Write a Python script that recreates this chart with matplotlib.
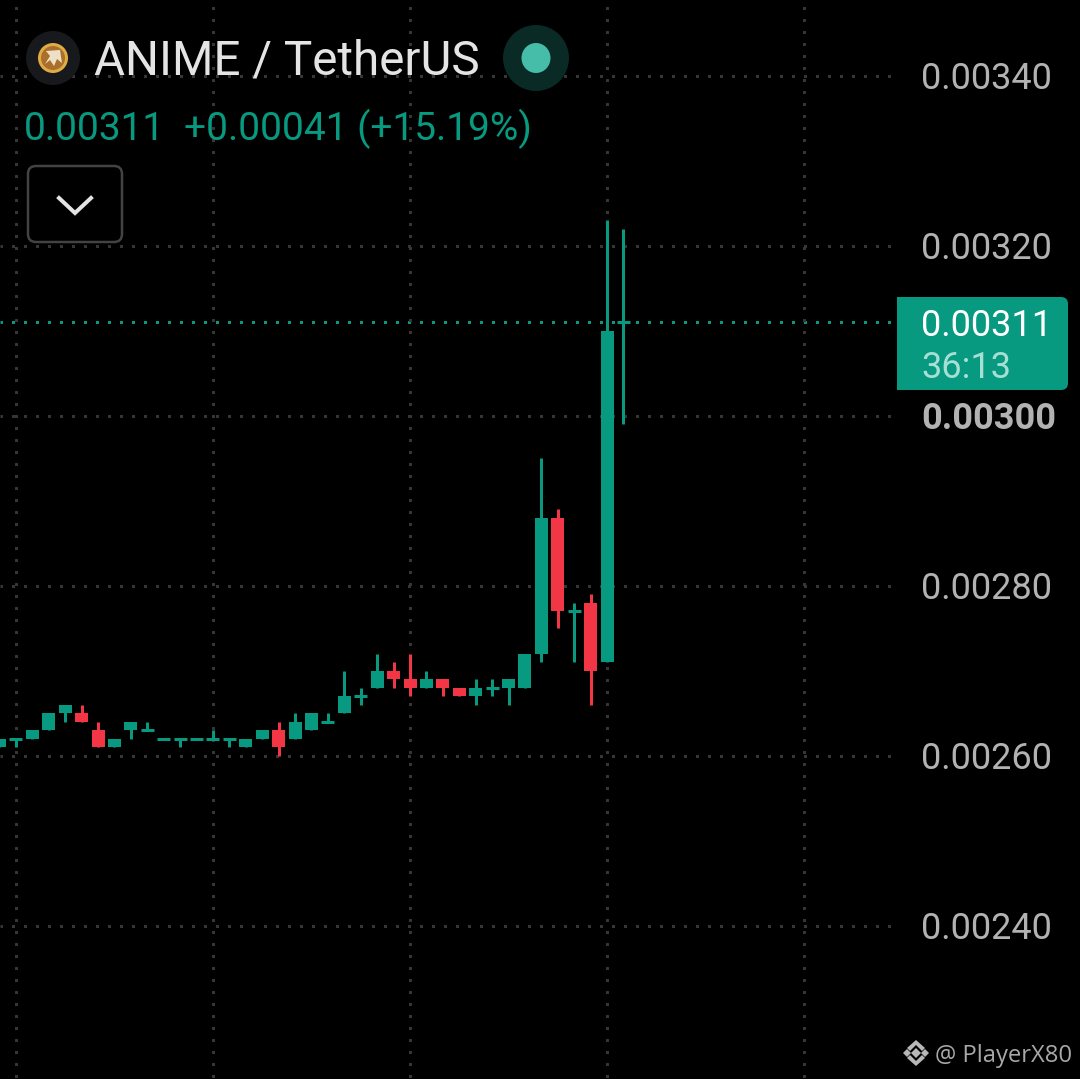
import matplotlib

matplotlib.use("Agg")
import matplotlib.pyplot as plt
import matplotlib.transforms as mtransforms
import numpy as np
from matplotlib.patches import Circle, Ellipse, FancyBboxPatch, Polygon, Rectangle

plt.rcParams["font.family"] = ["Roboto", "DejaVu Sans"]

opens = [261, 262, 262, 263, 265, 265, 263, 261, 263, 263, 262, 262, 262, 262, 262, 261, 262, 263, 262, 263,
         264, 265, 267, 268, 270, 269, 268, 269, 268, 267, 268, 268, 268, 272, 288, 277, 278, 271, 311]
closes = [262, 262, 263, 265, 266, 264, 261, 262, 264, 263, 262, 262, 262, 262, 262, 262, 263, 261, 264, 265,
          264, 267, 267, 270, 269, 268, 269, 268, 267, 268, 268, 269, 272, 288, 277, 277, 270, 310, 311]
highs = [262, 262, 263, 265, 266, 266, 264, 262, 264, 264, 262, 262, 262, 263, 262, 262, 263, 264, 265, 265,
         265, 270, 268, 272, 271, 272, 270, 269, 268, 269, 269, 269, 272, 295, 289, 278, 279, 323, 322]
lows = [261, 261, 262, 263, 264, 264, 261, 261, 262, 263, 262, 261, 262, 262, 261, 261, 262, 260, 262, 263,
        264, 265, 266, 268, 268, 267, 268, 267, 267, 266, 267, 266, 268, 271, 275, 271, 266, 271, 299]

grid_prices = [0.00240, 0.00260, 0.00280, 0.00300, 0.00320, 0.00340]
grid_candles = [1, 13, 25, 37, 49]
last_price = 0.00311
tag_price = "0.00311"
tag_timer = "36:13"
title = "ANIME / TetherUS"
last_text = "0.00311"
change_text = "+0.00041 (+15.19%)"
credit = "@ PlayerX80"

GREEN = "#089981"
RED = "#f23645"
GRID = "#363636"
LABEL = "#b2b2b2"

W, H = 1080, 1079
PX = 72 / 100  # points per pixel at dpi 100
Y_TOP, Y_BOTTOM = 0.0034894, 0.00222


def px_x(px):
    return (px + 0.5) / 16.42


fig = plt.figure(figsize=(W / 100, H / 100), dpi=100, facecolor="black")
ax = fig.add_axes([0, 0, 1, 1], facecolor="black")
ax.set_xlim(px_x(0), px_x(W))
ax.set_ylim(Y_BOTTOM, Y_TOP)
for spine in ax.spines.values():
    spine.set_visible(False)

# dotted grid, stops before the price labels
ax.hlines(grid_prices, px_x(0), px_x(893), color=GRID, linewidth=3 * PX, linestyle=(0.17, (1, 3)), zorder=1)
ax.hlines(last_price, px_x(0), px_x(893), color=GREEN, linewidth=3 * PX, linestyle=(0.17, (1, 3)), zorder=1)
ax.vlines(grid_candles, Y_TOP, Y_BOTTOM, color=GRID, linewidth=3 * PX, linestyle=(1.83, (1, 3)), zorder=1)

o = np.array(opens) / 1e5
c = np.array(closes) / 1e5
h = np.array(highs) / 1e5
l = np.array(lows) / 1e5
x = np.arange(len(o))
colors = [RED if b < a else GREEN for a, b in zip(o, c)]

ax.vlines(x, l, h, color=colors, linewidth=3 * PX, capstyle="butt", zorder=2)
ax.bar(x, np.abs(c - o), bottom=np.minimum(o, c), width=13 / 16.42, color=colors, linewidth=0, zorder=3)
flat = o == c
ax.hlines(o[flat], x[flat] - 6.5 / 16.42, x[flat] + 6.5 / 16.42, color=GREEN, linewidth=3 * PX, zorder=3)

ax.set_xticks([])
ax.set_yticks(grid_prices)
ax.set_yticklabels([f"{p:.5f}" for p in grid_prices])
ax.tick_params(axis="y", length=0, labelright=True, labelleft=False, pad=(921 - W) * PX,
               labelsize=26, labelcolor=LABEL)
# digits sit a little higher than matplotlib centres them
nudge = mtransforms.ScaledTranslation(0, 1 / 100, fig.dpi_scale_trans)
for tick, price in zip(ax.yaxis.get_major_ticks(), grid_prices):
    label = tick.label2
    label.set_ha("left")
    label.set_transform(label.get_transform() + nudge)
    if price == 0.00300:
        label.set_fontweight("bold")

# header, price tag and watermark sit on a pixel overlay
ui = fig.add_axes([0, 0, 1, 1], facecolor="none")
ui.set_xlim(0, W)
ui.set_ylim(H, 0)
ui.axis("off")

ui.add_patch(Circle((53, 58), 27, color="#17191c", lw=0))
ui.add_patch(Circle((53, 58), 15, color="#e2ac45", lw=0))
ui.add_patch(Circle((53, 58), 12, color="#a8702c", lw=0))
ui.add_patch(Polygon([(45, 64), (50, 56), (46, 51), (60, 50), (62, 63), (57, 59), (54, 66), (50, 60)],
                     closed=True, color="#eee0c4", lw=0))
ui.text(94, 75, title, color="#e4e4e4", fontsize=34.3, ha="left", va="baseline")
ui.add_patch(Ellipse((536, 58), 66, 66, color="#0a2a25", lw=0))
ui.add_patch(Ellipse((536, 58), 29, 30, color="#45bda8", lw=0))

ui.text(24, 140, last_text, color=GREEN, fontsize=28, ha="left", va="baseline")
ui.text(184, 140, change_text, color=GREEN, fontsize=28, ha="left", va="baseline")

ui.add_patch(FancyBboxPatch((28, 166), 94, 76, boxstyle="round,pad=0,rounding_size=8",
                            facecolor="black", edgecolor="#434343", linewidth=2.5 * PX))
ui.plot([59, 75, 91], [198, 213, 198], color="#e4e4e4", linewidth=4 * PX, solid_joinstyle="miter")

ui.add_patch(FancyBboxPatch((897, 297), 171, 93, boxstyle="round,pad=0,rounding_size=7", color=GREEN, lw=0))
ui.add_patch(Rectangle((897, 297), 20, 93, color=GREEN, lw=0))
ui.text(921, 336, tag_price, color="white", fontsize=26, ha="left", va="baseline")
ui.text(921, 378, tag_timer, color="#a6e0d5", fontsize=26, ha="left", va="baseline")

ui.add_patch(Polygon([(916, 1048), (921, 1053), (916, 1058), (911, 1053)], closed=True, color="#b8b8b8", lw=0))
ui.add_patch(Polygon([(907, 1049), (911, 1053), (907, 1057), (903, 1053)], closed=True, color="#b8b8b8", lw=0))
ui.add_patch(Polygon([(925, 1049), (929, 1053), (925, 1057), (921, 1053)], closed=True, color="#b8b8b8", lw=0))
ui.add_patch(Polygon([(916, 1040), (925, 1048), (922, 1051), (916, 1045), (910, 1051), (907, 1048)],
                     closed=True, color="#b8b8b8", lw=0))
ui.add_patch(Polygon([(916, 1066), (925, 1058), (922, 1055), (916, 1061), (910, 1055), (907, 1058)],
                     closed=True, color="#b8b8b8", lw=0))
ui.text(935, 1062, credit, color="#a8a8a8", fontsize=17.1, family=["Open Sans", "DejaVu Sans"],
        ha="left", va="baseline")

fig.savefig("out.png", dpi=100, facecolor="black")
